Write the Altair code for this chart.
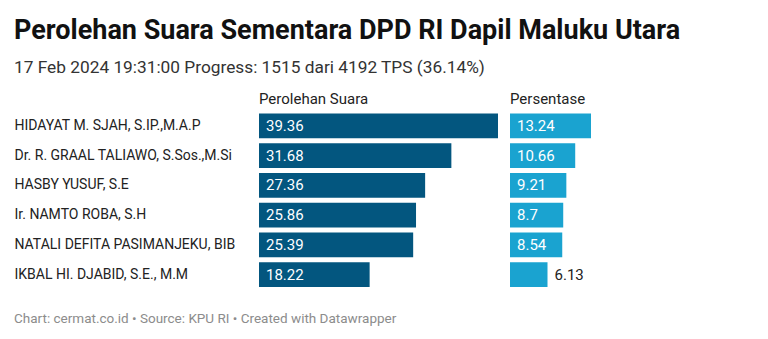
import altair as alt
import pandas as pd

names = [
    "HIDAYAT M. SJAH, S.IP.,M.A.P",
    "Dr. R. GRAAL TALIAWO, S.Sos.,M.Si",
    "HASBY YUSUF, S.E",
    "Ir. NAMTO ROBA, S.H",
    "NATALI DEFITA PASIMANJEKU, BIB",
    "IKBAL HI. DJABID, S.E., M.M",
]
suara = [39.36, 31.68, 27.36, 25.86, 25.39, 18.22]
persen = [13.24, 10.66, 9.21, 8.7, 8.54, 6.13]

title = "Perolehan Suara Sementara DPD RI Dapil Maluku Utara"
subtitle = "17 Feb 2024 19:31:00 Progress: 1515 dari 4192 TPS (36.14%)"
footer = "Chart: cermat.co.id • Source: KPU RI • Created with Datawrapper"
col1 = "Perolehan Suara"
col2 = "Persentase"

df = pd.DataFrame({
    "name": names,
    "suara": suara,
    "persen": persen,
    "suara_lbl": [str(v) for v in suara],
    "persen_lbl": [str(v) for v in persen],
})

FONT = "Roboto"
DARK = "#03567f"
LIGHT = "#1aa3d0"
TXT = "#222222"

yscale = alt.Scale(paddingInner=5 / 30, paddingOuter=2.5 / 30)


def column(field, lbl, color, domain, width, head, show_axis):
    yax = alt.Axis(
        title=None, labelAlign="left", labelPadding=245, ticks=False, tickSize=0,
        domain=False, labelFontSize=14, labelColor=TXT, labelFont=FONT,
        labelLimit=400,
    ) if show_axis else None
    xs = alt.Scale(domain=domain, nice=False, zero=True)
    base = alt.Chart(df).encode(y=alt.Y("name:N", sort=names, scale=yscale, axis=yax))
    bars = base.mark_bar(color=color).encode(
        x=alt.X(f"{field}:Q", scale=xs, axis=None)
    )
    # label inside the bar when it fits (about 50px), otherwise just after the bar end
    thr = domain[1] * 50 / width
    texts = base.transform_calculate(
        lx=f"datum.{field} >= {thr} ? 0 : datum.{field}",
        inside=f"datum.{field} >= {thr}",
    ).mark_text(align="left", baseline="middle", dx=7, fontSize=15, font=FONT).encode(
        x=alt.X("lx:Q", scale=xs, axis=None),
        text=alt.Text(f"{lbl}:N"),
        color=alt.condition("datum.inside", alt.value("white"), alt.value(TXT)),
    )
    return (bars + texts).properties(
        width=width, height=178.5,
        title=alt.TitleParams(head, anchor="start", frame="group", fontSize=15,
                              fontWeight="normal", font=FONT, color=TXT, offset=4),
    )


a = column("suara", "suara_lbl", DARK, [0, 39.36], 239, col1, True)
b = column("persen", "persen_lbl", LIGHT, [0, 13.24], 81, col2, False)

foot = alt.Chart(pd.DataFrame({"t": [footer]})).mark_text(
    align="left", baseline="middle", fontSize=13.5, font=FONT, color="#8c8c8c"
).encode(text="t:N", x=alt.value(-245), y=alt.value(10)).properties(width=300, height=20)

chart = alt.vconcat(
    alt.hconcat(a, b, spacing=12),
    foot,
    spacing=19,
).properties(
    title=alt.TitleParams(
        title, subtitle=subtitle, anchor="start", frame="bounds",
        font=FONT, fontSize=27, fontWeight="bold", color="#111111",
        subtitleFont=FONT, subtitleFontSize=17.3, subtitleColor="#333333",
        subtitlePadding=14, offset=15,
    ),
    padding={"left": 14, "top": 16, "right": 0, "bottom": 0},
).configure(background="white").configure_view(stroke=None, strokeWidth=0)

chart.save("out.html", embed_options={"renderer": "svg", "actions": False})
